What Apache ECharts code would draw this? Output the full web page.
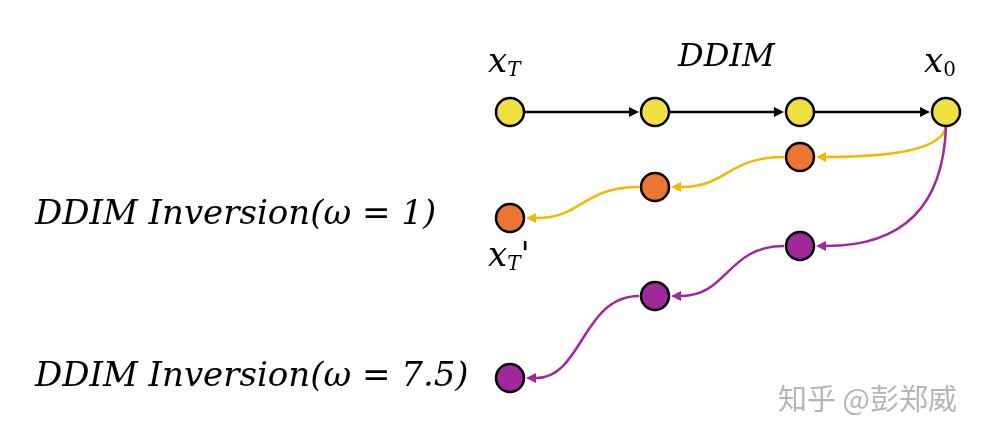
<!DOCTYPE html>
<html><head><meta charset="utf-8">
<script src="https://cdn.jsdelivr.net/npm/echarts@6/dist/echarts.min.js"></script>
<style>html,body{margin:0;background:#fff}</style>
</head><body>
<div id="main" style="width:984px;height:440px;"></div>
<script>
// node centres (diagram pixel units) and colours
var nodeX = [510, 655, 800, 946, 800, 655, 510, 800, 655, 510];
var nodeY = [112, 112, 112, 112, 157, 187, 218, 246, 296, 378];
var nodeColor = ['#f0e040','#f0e040','#f0e040','#f0e040','#ec7532','#ec7532','#ec7532','#a0289a','#a0289a','#a0289a'];
// edges: from node, to node, colour, shape
var edgeFrom = [0, 1, 2, 3, 4, 5, 3, 7, 8];
var edgeTo   = [1, 2, 3, 4, 5, 6, 7, 8, 9];
var edgeColor = ['#000','#000','#000','#f5b800','#f5b800','#f5b800','#a0289a','#a0289a','#a0289a'];
var edgeShape = ['line','line','line','hook','s','s','hook','s','s'];

var R = 14;
var nodes = nodeX.map(function (x, i) { return [x, nodeY[i], nodeColor[i]]; });
var edges = edgeFrom.map(function (f, i) { return [f, edgeTo[i], i]; });

var myChart = echarts.init(document.getElementById('main'));
var mathFont = 'DejaVu Serif';
option = {
    backgroundColor: '#fff',
    grid: {left: 0, right: 0, top: 0, bottom: 0},
    xAxis: {type: 'value', min: 0, max: 984, show: false},
    yAxis: {type: 'value', min: 0, max: 440, inverse: true, show: false},
    graphic: [
        {type: 'text', left: 488, top: 46, style: {rich: {a: {font: 'italic 34px ' + mathFont}, s: {font: 'italic 20px ' + mathFont, padding: [16, 0, 0, 0]}}, text: '{a|x}{s|T}'}},
        {type: 'text', left: 924, top: 46, style: {rich: {a: {font: 'italic 34px ' + mathFont}, s: {font: '20px ' + mathFont, padding: [16, 0, 0, 0]}}, text: '{a|x}{s|0}'}},
        {type: 'text', left: 678, top: 42, style: {text: 'DDIM', font: 'italic 32px ' + mathFont, fill: '#000'}},
        {type: 'text', left: 488, top: 240, style: {rich: {a: {font: 'italic 34px ' + mathFont}, s: {font: 'italic 20px ' + mathFont, padding: [16, 0, 0, 0]}}, text: "{a|x}{s|T}{a|'}"}},
        {type: 'text', left: 35, top: 198, style: {text: 'DDIM Inversion(ω = 1)', font: 'italic 34px ' + mathFont, fill: '#000'}},
        {type: 'text', left: 35, top: 360, style: {text: 'DDIM Inversion(ω = 7.5)', font: 'italic 34px ' + mathFont, fill: '#000'}},
        {type: 'text', left: 778, top: 384, style: {text: '知乎 @彭郑威', font: '29px "Noto Sans CJK SC"', fill: '#b5b5b5'}}
    ],
    series: [
        {
            type: 'custom',
            data: edges,
            z: 1,
            renderItem: function (params, api) {
                var a = nodes[api.value(0)], b = nodes[api.value(1)];
                var p1 = api.coord([a[0], a[1]]), p2 = api.coord([b[0], b[1]]);
                var shape = edgeShape[api.value(2)], color = edgeColor[api.value(2)];
                var s, e, c1, c2;
                if (shape === 'line') {
                    s = [p1[0] + R, p1[1]]; e = [p2[0] - R - 2, p2[1]];
                    c1 = s; c2 = s;
                } else if (shape === 'hook') {
                    s = [p1[0], p1[1] + R]; e = [p2[0] + R + 2, p2[1]];
                    c1 = [s[0] - 2, s[1] + (e[1] - s[1]) * 0.5];
                    c2 = [s[0] - 25, e[1]];
                } else {
                    s = [p1[0] - R - 2, p1[1]]; e = [p2[0] + R + 2, p2[1]];
                    var m = (s[0] + e[0]) / 2;
                    c1 = [m, s[1]]; c2 = [m, e[1]];
                }
                var dx = e[0] - c2[0], dy = e[1] - c2[1];
                if (shape === 'line') { dx = e[0] - s[0]; dy = 0; }
                var L = Math.sqrt(dx * dx + dy * dy); dx /= L; dy /= L;
                var h = 10, w = 5;
                var base = [e[0] - dx * h, e[1] - dy * h];
                return {
                    type: 'group',
                    children: [
                        {type: 'bezierCurve', shape: {x1: s[0], y1: s[1], x2: base[0], y2: base[1], cpx1: c1[0], cpy1: c1[1], cpx2: c2[0], cpy2: c2[1]},
                         style: {stroke: color, lineWidth: 2.5, fill: null}},
                        {type: 'polygon', shape: {points: [e, [base[0] - dy * w, base[1] + dx * w], [base[0] + dy * w, base[1] - dx * w]]},
                         style: {fill: color}}
                    ]
                };
            }
        },
        {
            type: 'scatter',
            data: nodes,
            z: 3,
            symbolSize: R * 2,
            itemStyle: {color: function (p) { return p.data[2]; }, borderColor: '#000', borderWidth: 2.5, opacity: 1}
        }
    ]
};
myChart.setOption(option);
</script>
</body></html>
